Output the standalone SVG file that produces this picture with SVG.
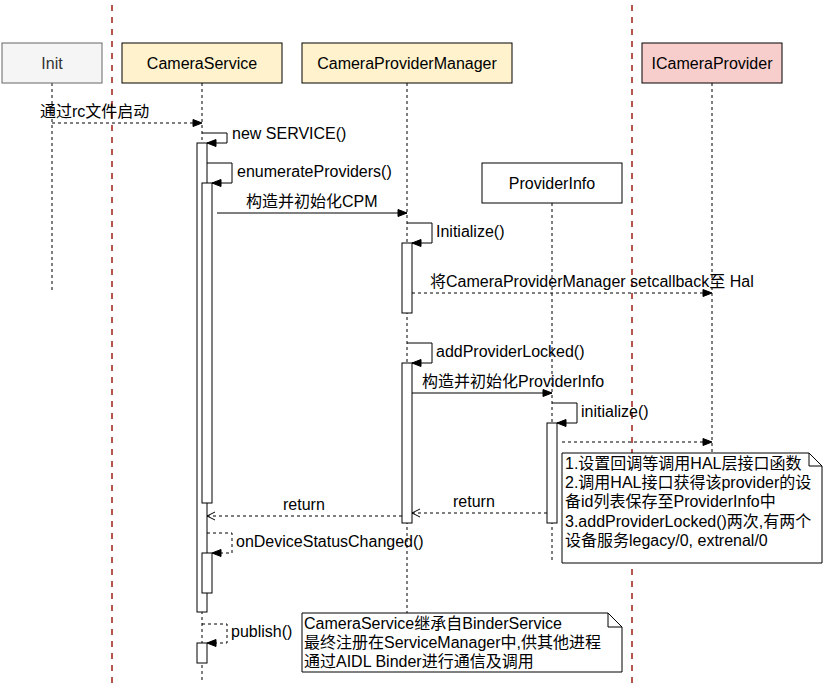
<svg xmlns="http://www.w3.org/2000/svg" width="825" height="687" viewBox="0 0 825 687">
<style>
text{font-family:"Liberation Sans","Noto Sans CJK SC",sans-serif;font-size:16px;fill:#000}
.c{text-anchor:middle}
.box{stroke:#000;stroke-width:1}
.life{stroke:#000;stroke-width:1;stroke-dasharray:3 3;fill:none}
.act{fill:#fff;stroke:#000;stroke-width:1}
.msg{stroke:#000;stroke-width:1;fill:none}
.dash{stroke-dasharray:3 3}
.sep{stroke:#b85450;stroke-width:2;stroke-dasharray:6 6;fill:none}
.note{fill:#fff;stroke:#000;stroke-width:1}
</style>
<defs>
<marker id="block" markerUnits="userSpaceOnUse" markerWidth="10" markerHeight="9" refX="9" refY="4" orient="auto" overflow="visible">
<path d="M0,0.5 L9,4 L0,7.5 z" fill="#000" stroke="#000" stroke-width="1"/>
</marker>
<marker id="open" markerUnits="userSpaceOnUse" markerWidth="10" markerHeight="10" refX="8" refY="4" orient="auto" overflow="visible">
<path d="M0,0 L8,4 L0,8" fill="none" stroke="#000" stroke-width="1"/>
</marker>
</defs>
<rect width="825" height="687" fill="#fff"/>
<line class="sep" x1="112" y1="5" x2="112" y2="687"/>
<line class="sep" x1="632" y1="5" x2="632" y2="687"/>

<g id="lifelines">
<line class="life" x1="52" y1="83" x2="52" y2="290"/>
<line class="life" x1="202" y1="83" x2="202" y2="680"/>
<line class="life" x1="407" y1="83" x2="407" y2="613"/>
<line class="life" x1="712" y1="83" x2="712" y2="453"/>
<line class="life" x1="552" y1="203" x2="552" y2="560"/>
</g>

<g id="init"><rect x="2" y="43" width="100" height="40" fill="#f5f5f5" stroke="#666666"/><text class="c" x="52" y="69" style="fill:#333333">Init</text></g>
<g id="cameraservice"><rect class="box" x="122" y="43" width="160" height="40" fill="#fff2cc"/><text class="c" x="202" y="69">CameraService</text></g>
<g id="cpm"><rect class="box" x="302" y="43" width="210" height="40" fill="#fff2cc"/><text class="c" x="407" y="69">CameraProviderManager</text></g>
<g id="icameraprovider"><rect class="box" x="642" y="43" width="140" height="40" fill="#f8cecc"/><text class="c" x="712" y="69">ICameraProvider</text></g>
<g id="providerinfo"><rect class="box" x="482" y="163" width="140" height="40" fill="#fff"/><text class="c" x="552" y="189">ProviderInfo</text></g>

<g id="activations">
<rect class="act" x="197" y="143" width="10" height="469"/>
<rect class="act" x="202" y="183" width="10" height="320"/>
<rect class="act" x="402" y="243" width="10" height="70"/>
<rect class="act" x="402" y="363" width="10" height="160"/>
<rect class="act" x="547" y="423" width="10" height="100"/>
<rect class="act" x="202" y="553" width="10" height="40"/>
<rect class="act" x="197" y="643" width="10" height="20"/>
</g>

<g id="connectors">
<path class="msg dash" d="M52,123 L202,123" marker-end="url(#block)"/>
<path class="msg" d="M202,133 L227,133 L227,143 L207,143" marker-end="url(#block)"/>
<path class="msg" d="M207,163 L232,163 L232,183 L212,183" marker-end="url(#block)"/>
<path class="msg" d="M217,213 L407,213" marker-end="url(#block)"/>
<path class="msg" d="M407,223 L432,223 L432,243 L412,243" marker-end="url(#block)"/>
<path class="msg dash" d="M412,293 L712,293" marker-end="url(#block)"/>
<path class="msg" d="M407,343 L432,343 L432,363 L412,363" marker-end="url(#block)"/>
<path class="msg" d="M412,393 L552,393" marker-end="url(#block)"/>
<path class="msg" d="M552,403 L577,403 L577,423 L557,423" marker-end="url(#block)"/>
<path class="msg dash" d="M562,442 L712,442" marker-end="url(#block)"/>
<path class="msg dash" d="M547,513 L412,513" marker-end="url(#open)"/>
<path class="msg dash" d="M402,516 L207,516" marker-end="url(#open)"/>
<path class="msg dash" d="M207,533 L232,533 L232,553 L212,553" marker-end="url(#block)"/>
<path class="msg dash" d="M202,624 L227,624 L227,643 L207,643" marker-end="url(#block)"/>
</g>

<g id="labels">
<text x="40" y="117">通过rc文件启动</text>
<text x="232" y="139">new SERVICE()</text>
<text x="237" y="177">enumerateProviders()</text>
<text x="246" y="207">构造并初始化CPM</text>
<text x="436" y="237">Initialize()</text>
<text x="430" y="287">将CameraProviderManager setcallback至 Hal</text>
<text x="436" y="357">addProviderLocked()</text>
<text x="422" y="387">构造并初始化ProviderInfo</text>
<text x="581" y="417">initialize()</text>
<text x="453" y="507">return</text>
<text x="283" y="510">return</text>
<text x="236" y="547">onDeviceStatusChanged()</text>
<text x="231" y="637">publish()</text>
</g>

<g id="note1">
<path class="note" d="M562,453 L809,453 L822,466 L822,563 L562,563 z"/>
<path d="M809,453 L809,466 L822,466" fill="none" stroke="#000"/>
<text x="565" y="469">1.设置回调等调用HAL层接口函数</text>
<text x="565" y="488">2.调用HAL接口获得该provider的设</text>
<text x="565" y="507">备id列表保存至ProviderInfo中</text>
<text x="565" y="527">3.addProviderLocked()两次,有两个</text>
<text x="565" y="546">设备服务legacy/0, extrenal/0</text>
</g>

<g id="note2">
<path class="note" d="M302,613 L608,613 L622,627 L622,672 L302,672 z"/>
<path d="M608,613 L608,627 L622,627" fill="none" stroke="#000"/>
<text x="304" y="629">CameraService继承自BinderService</text>
<text x="304" y="648">最终注册在ServiceManager中,供其他进程</text>
<text x="304" y="667">通过AIDL Binder进行通信及调用</text>
</g>
</svg>
